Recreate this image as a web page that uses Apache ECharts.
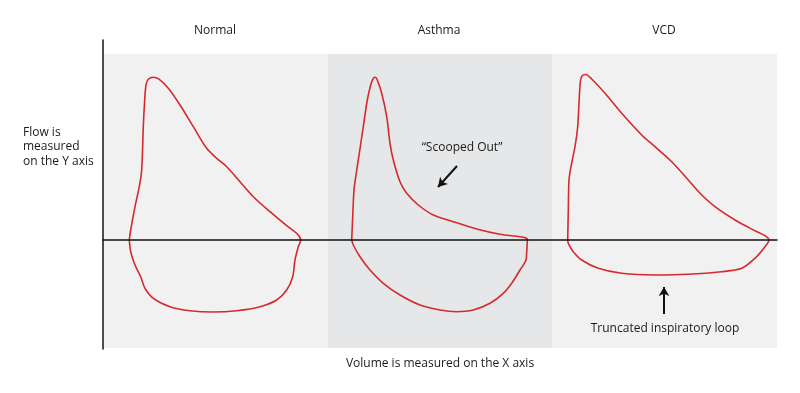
<!DOCTYPE html>
<html><head><meta charset="utf-8">
<script src="https://cdn.jsdelivr.net/npm/echarts@6/dist/echarts.min.js"></script>
<style>html,body{margin:0;padding:0;background:#fff}#c{width:800px;height:393px}</style>
</head><body><div id="c"></div>
<script>
// Panel titles
var panels = ['Normal', 'Asthma', 'VCD'];
// Panel x ranges (volume units) for shaded backgrounds
var panelRanges = [[1, 225], [225, 449], [449, 674]];
var bgTop = 186, bgBottom = -108;

// Flow-volume loops [volume, flow]
var normalLoop = [[26.3,0],[27.7,10],[32,33.3],[36.3,53.3],[38.7,70],[40.3,113.3],[41.7,140],[43,155],[45.3,160.7],[50.3,162.7],[56.3,160.7],[65.3,151.7],[77,135],[90.3,113.3],[103.7,91.7],[113.7,81.7],[123.7,73.3],[137,58.3],[150.3,43.3],[167,28.3],[183.7,14.3],[194.3,6],[197.7,0],[195.3,-6.7],[192,-20],[189.7,-36.7],[183.7,-50],[173.7,-60],[157,-66.7],[133.7,-70.7],[110.3,-72],[87,-70.7],[67,-66.7],[50.3,-58.3],[42,-48.3],[37.7,-36.7],[32,-25],[27.7,-11.7],[26.3,0]];
var asthmaLoop = [[248.7,0],[249.7,23.3],[251,50],[253,65],[256.3,86.7],[260.3,113.3],[264.3,140],[267.7,155],[270.3,161.7],[272.3,162.7],[274.3,160],[278.7,146.7],[283.7,123.3],[287,96.7],[290.3,80],[297,58.3],[303.7,46.7],[315.3,35],[330.3,25],[350.3,18.3],[373.7,11],[397,5.7],[417,3.3],[423.7,1.7],[424.3,-0.7],[423.7,-11.7],[423,-20],[417,-30],[408.7,-43.3],[400.3,-53.3],[387,-63.3],[370.3,-70],[353.7,-71.7],[337,-70],[317,-65],[297,-55],[280.3,-43.3],[267,-30],[257,-16.7],[250.3,-5],[248.7,0]];
var vcdLoop = [[464.7,0],[465.3,30],[466,60],[468,73.3],[472,93.3],[474.7,113.3],[476,136.7],[477.3,158],[479,164],[482.7,165.5],[488.7,161],[502,146.7],[518.7,126.7],[538.7,105],[552,93.3],[568.7,78.3],[585.3,60],[597,46.7],[612,33.3],[632,20],[652,9.3],[662,4.3],[666,0],[662,-6.7],[652,-18.3],[638.7,-28.3],[618.7,-31.7],[585.3,-34.3],[552,-35],[518.7,-33.3],[495.3,-28.3],[478.7,-20],[470.3,-11.7],[465.3,-3.3],[464.7,0]];

// Annotation arrows (data coords)
var scoopArrow = [[354, 74], [335, 53]];
var truncArrow = [[561, -74], [561, -47]];

var chart = echarts.init(document.getElementById('c'));
var font = '"Open Sans", sans-serif';
var lineStyle = {color: '#d42a2f', width: 1.6};
function loopSeries(name, data) {
  return {name: name, type: 'line', data: data, smooth: 0.3, showSymbol: false, symbol: 'none',
    lineStyle: lineStyle, silent: true, z: 3};
}
var bgColors = ['#f1f1f1', '#e6e7e8', '#f1f1f1'];
var texts = [
  {t: panels[0], x: 215, y: 31, a: 'center'},
  {t: panels[1], x: 439, y: 31, a: 'center'},
  {t: panels[2], x: 664, y: 31, a: 'center'},
  {t: 'Flow is\nmeasured\non the Y axis', x: 23, y: 147, a: 'left', lh: 14.5},
  {t: 'Volume is measured on the X axis', x: 440, y: 364, a: 'center'},
  {t: '\u201CScooped Out\u201D', x: 462, y: 148, a: 'center'},
  {t: 'Truncated inspiratory loop', x: 665, y: 329, a: 'center'}
];
chart.setOption({
  animation: false,
  grid: {left: 103, right: 23, top: 40, bottom: 44},
  xAxis: {type: 'value', min: 0, max: 674, z: 10, axisLine: {show: true, onZero: true, lineStyle: {color: '#111', width: 1.5}},
    axisTick: {show: false}, axisLabel: {show: false}, splitLine: {show: false}},
  yAxis: {type: 'value', min: -109, max: 200, z: 10, axisLine: {show: true, onZero: false, lineStyle: {color: '#111', width: 1.5}},
    axisTick: {show: false}, axisLabel: {show: false}, splitLine: {show: false}},
  series: [
    {type: 'line', data: [], silent: true, z: 1,
      markArea: {silent: true, data: panelRanges.map(function (r, i) {
        return [{coord: [r[0], bgTop], itemStyle: {color: bgColors[i]}}, {coord: [r[1], bgBottom]}];
      })},
      markLine: {silent: true, symbol: ['none', 'arrow'], symbolSize: [8, 9], label: {show: false},
        lineStyle: {color: '#111', width: 2, type: 'solid'},
        data: [
          [{coord: scoopArrow[0]}, {coord: scoopArrow[1]}],
          [{coord: truncArrow[0]}, {coord: truncArrow[1]}]
        ]}
    },
    loopSeries(panels[0], normalLoop),
    loopSeries(panels[1], asthmaLoop),
    loopSeries(panels[2], vcdLoop)
  ],
  graphic: texts.map(function (o) {
    return {type: 'text', x: o.x, y: o.y, z: 10, style: {text: o.t, fill: '#1a1a1a', font: '12px ' + font,
      align: o.a, verticalAlign: 'middle', lineHeight: o.lh || 14}};
  })
});
</script></body></html>
